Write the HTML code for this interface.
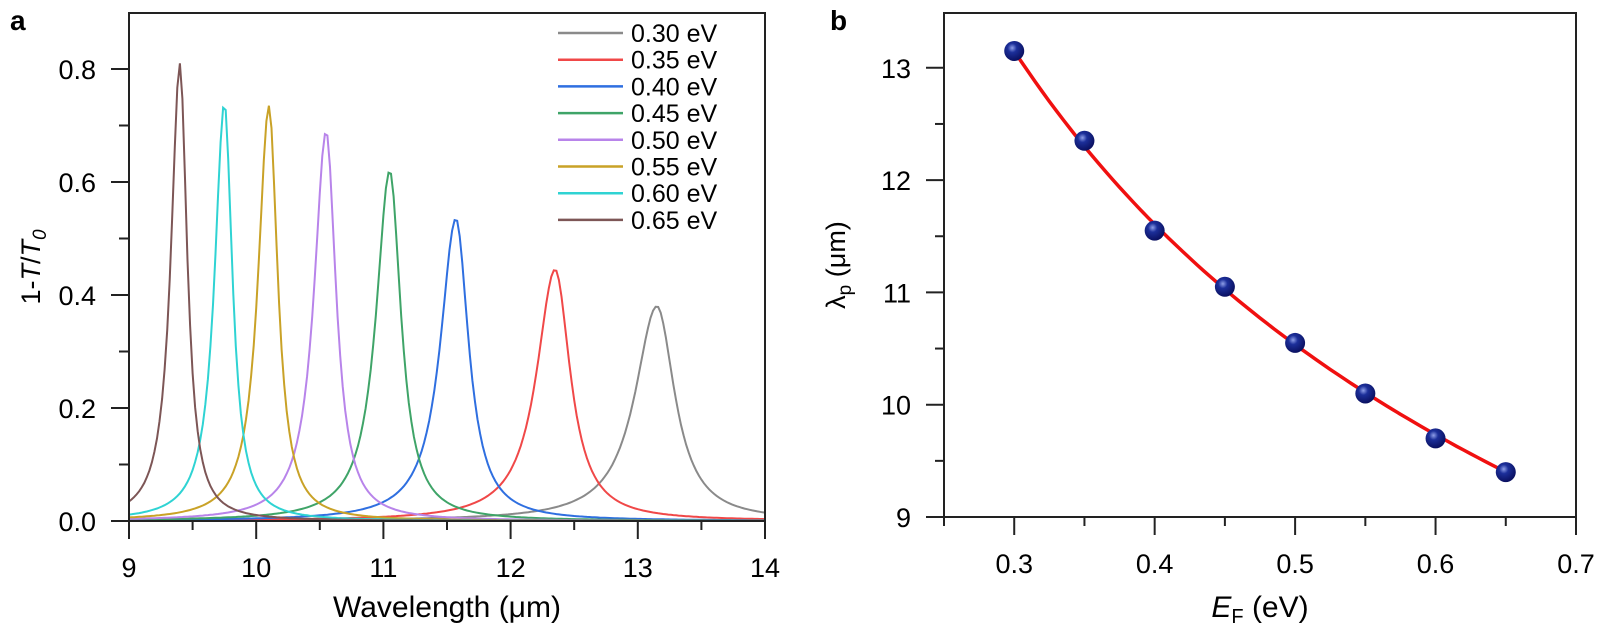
<!DOCTYPE html>
<html><head><meta charset="utf-8"><style>
html,body{margin:0;padding:0;background:#fff;}
svg{display:block;font-family:"Liberation Sans",Arial,sans-serif;}
</style></head><body>
<svg id="s" width="1600" height="631" viewBox="0 0 1600 631" xmlns="http://www.w3.org/2000/svg">
<defs>
<radialGradient id="ball" cx="0.4" cy="0.35" r="0.65">
<stop offset="0" stop-color="#8f9fe8"/><stop offset="0.35" stop-color="#1c2f9a"/><stop offset="1" stop-color="#0a1060"/>
</radialGradient>
</defs>
<text x="10" y="30" font-size="28" font-weight="bold">a</text>
<text x="830" y="30" font-size="28" font-weight="bold">b</text>
<g id="L"></g>
<g id="R"></g>
<text transform="translate(40,267) rotate(-90)" font-size="27" text-anchor="middle">1-<tspan font-style="italic">T</tspan>/<tspan font-style="italic">T</tspan><tspan font-size="19" dy="6" font-style="italic">0</tspan></text>
<text x="447" y="617" font-size="30" text-anchor="middle">Wavelength (μm)</text>
<text transform="translate(845,265) rotate(-90)" font-size="27" text-anchor="middle">λ<tspan font-size="19" dy="6">p</tspan><tspan dy="-6"> (μm)</tspan></text>
<text x="1260" y="617" font-size="30" text-anchor="middle"><tspan font-style="italic">E</tspan><tspan font-size="20" dy="6">F</tspan><tspan dy="-6"> (eV)</tspan></text>
</svg>
<script>
const NS="http://www.w3.org/2000/svg";
function el(p,t,a,txt){const e=document.createElementNS(NS,t);for(const k in a)e.setAttribute(k,a[k]);if(txt!==undefined)e.textContent=txt;p.appendChild(e);return e;}
const L=document.getElementById('L'),R=document.getElementById('R');
const lx0=129,lx1=765,ly0=521,ly1=13;
const X=x=>lx0+(x-9)*(lx1-lx0)/5, Y=y=>ly0-y*(113/0.2);
const ser=[["#8a8a8a",13.15,0.38],["#f04848",12.35,0.445],["#2f6fe0",11.57,0.535],["#3fa468",11.05,0.62],["#b884ea",10.55,0.69],["#c9a227",10.1,0.735],["#2fd3d3",9.75,0.74],["#7d5656",9.4,0.81]];
ser.forEach(([c,x0,A])=>{
  const g=0.19*Math.pow(x0/13.15,2.7);let d="";
  for(let x=9;x<=14.0001;x+=0.02){
    const dx=x-x0;const gg=dx<0?g*1.1:g*0.9;
    let y=A*gg*gg/(dx*dx+gg*gg);
    d+=(d?"L":"M")+X(x).toFixed(1)+","+Y(y).toFixed(1);}
  el(L,"path",{d:d,fill:"none",stroke:c,"stroke-width":2});
});
el(L,"rect",{x:lx0,y:ly1,width:lx1-lx0,height:ly0-ly1,fill:"none",stroke:"#222","stroke-width":2});
for(let i=0;i<=10;i++){const x=X(9+i*0.5);el(L,"line",{x1:x,x2:x,y1:ly0,y2:ly0+(i%2?9:18),stroke:"#222","stroke-width":2});
 if(i%2==0)el(L,"text",{x:x,y:ly0+56,"font-size":27,"text-anchor":"middle"},String(9+i/2));}
for(let i=0;i<=8;i++){const y=Y(i*0.1);el(L,"line",{x1:lx0,x2:lx0-(i%2?10:18),y1:y,y2:y,stroke:"#222","stroke-width":2});
 if(i%2==0)el(L,"text",{x:lx0-33,y:y+10,"font-size":27,"text-anchor":"end"},(i/10).toFixed(1));}
const labs=["0.30 eV","0.35 eV","0.40 eV","0.45 eV","0.50 eV","0.55 eV","0.60 eV","0.65 eV"];
ser.forEach((s,i)=>{const y=33+i*26.7;el(L,"line",{x1:558,x2:623,y1:y,y2:y,stroke:s[0],"stroke-width":2.5});
 el(L,"text",{x:631,y:y+9,"font-size":25},labs[i]);});
const rx0=944,rx1=1576,ry0=517,ry1=13;
const XR=x=>rx0+(x-0.25)*(rx1-rx0)/0.45, YR=y=>ry0-(y-9)*112.3;
el(R,"rect",{x:rx0,y:ry1,width:rx1-rx0,height:ry0-ry1,fill:"none",stroke:"#222","stroke-width":2});
for(let i=0;i<=9;i++){const v=0.25+i*0.05,x=XR(v);el(R,"line",{x1:x,x2:x,y1:ry0,y2:ry0+(i%2?18:9),stroke:"#222","stroke-width":2});
 if(i%2==1)el(R,"text",{x:x,y:ry0+56,"font-size":27,"text-anchor":"middle"},v.toFixed(1));}
for(let i=0;i<=8;i++){const v=9+i*0.5,y=YR(v);if(y<ry1-1)break;el(R,"line",{x1:rx0,x2:rx0-(i%2?9:18),y1:y,y2:y,stroke:"#222","stroke-width":2});
 if(i%2==0)el(R,"text",{x:rx0-33,y:y+10,"font-size":27,"text-anchor":"end"},String(9+i/2));}
let d="";for(let e=0.3;e<=0.6501;e+=0.005){const l=13.15*Math.pow(0.3/e,0.434);d+=(d?"L":"M")+XR(e).toFixed(1)+","+YR(l).toFixed(1);}
el(R,"path",{d:d,fill:"none",stroke:"#f01010","stroke-width":3.5});
[13.15,12.35,11.55,11.05,10.55,10.1,9.7,9.4].forEach((l,i)=>{el(R,"circle",{cx:XR(0.3+i*0.05),cy:YR(l),r:10,fill:"url(#ball)"});});
</script>
</body></html>
